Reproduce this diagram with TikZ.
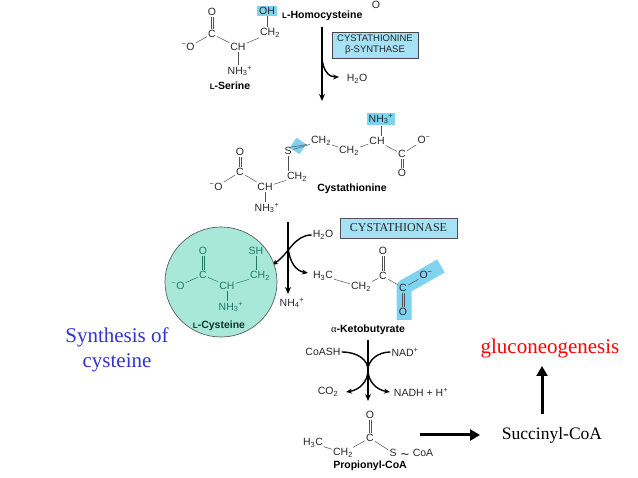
\documentclass[tikz,border=0pt]{standalone}
\usepackage{fontspec}
\setmainfont{Liberation Serif}
\newfontfamily\hv{Liberation Sans}
\usetikzlibrary{arrows.meta,shapes.geometric}
\definecolor{hl}{HTML}{7FD3F0}
\definecolor{boxc}{HTML}{A6E2F5}
\definecolor{mint}{HTML}{A8E8D8}
\definecolor{tealc}{HTML}{1E7A66}
\definecolor{ink}{HTML}{262626}
\definecolor{synblue}{HTML}{3333CC}
\newcommand\mn{\textsuperscript{−}}
\newcommand\sbs[1]{\textsubscript{#1}}
\newcommand\sps[1]{\textsuperscript{#1}}
\newcommand\smallL{{\fontsize{8}{9}\selectfont L}}
% vertical double bond between two named nodes
\newcommand\dbond[3][bond]{%
  \draw[#1] ([xshift=-1.2pt]#2.south) -- ([xshift=-1.2pt]#3.north);
  \draw[#1] ([xshift=1.2pt]#2.south) -- ([xshift=1.2pt]#3.north);}
\begin{document}
\begin{tikzpicture}[x=1pt,y=-1pt,
  atom/.style={font=\hv\fontsize{10.5}{12}\selectfont, text=ink, inner sep=1pt},
  atomc/.style={atom, text=tealc},
  bond/.style={draw=ink!80, line width=0.5pt},
  bondc/.style={draw=tealc, line width=0.5pt},
  lbl/.style={font=\hv\bfseries\fontsize{10.5}{12}\selectfont, text=black, inner sep=0pt},
  rxn/.style={draw=black, line width=1.5pt, -{Stealth[length=7pt,width=6pt]}},
  side/.style={draw=black, line width=1.4pt, -{Stealth[length=6pt,width=5pt]}},
  sidenoarr/.style={draw=black, line width=1.4pt},
  big/.style={draw=black, line width=3pt, -{Triangle[length=10pt,width=11pt]}},
  hlbox/.style={fill=hl, inner xsep=2pt, inner ysep=1.5pt},
]
\useasboundingbox (0,0) rectangle (638,478);

% ---------- L-Serine / L-Homocysteine ----------
\node[atom] (so1) at (212,12) {O};
\node[atom] (sc) at (212,34) {C};
\node[atom] (som) at (188,47) {\mn O};
\node[atom] (sch) at (238,47) {CH};
\node[atom] (sch2) at (270,33) {CH\sbs2};
\node[atom,hlbox] (soh) at (267,11) {OH};
\node[atom] (snh) at (240,71) {NH\sbs3\sps+};
\node[lbl] (lser) at (230,86) {\smallL-Serine};
\node[lbl,anchor=west] (lhom) at (282,16) {\smallL-Homocysteine};
\node[atom] (otop) at (376,5) {O};
\dbond{so1}{sc}
\draw[bond] (som) -- (sc);
\draw[bond] (sc) -- (sch);
\draw[bond] (sch) -- (sch2);
\draw[bond] (soh) -- (soh |- sch2.north);
\draw[bond] (sch) -- (sch |- snh.north);

% ---------- arrow 1 ----------
\coordinate (a1s) at (322,27);
\coordinate (a1e) at (322,101);
\coordinate (a1b) at (322,58);
\coordinate (tiph2oa) at (339,77);
\draw[rxn] (a1s) -- (a1e);
\draw[side] (a1b) .. controls (323,71) and (329,77) .. (tiph2oa);
\node[atom] (h2oa) at (357,79) {H\sbs2O};
\node[draw=ink!85, fill=boxc, line width=0.7pt, align=center,
      font=\hv\fontsize{9.5}{11}\selectfont, text=ink,
      minimum width=86pt, minimum height=26pt, inner sep=1pt] (enz1) at (375,45)
      {CYSTATHIONINE\\β-SYNTHASE};

% ---------- Cystathionine ----------
\node[atom,hlbox] (ynh) at (381,119) {NH\sbs3\sps+};
\node[atom] (ych) at (377,141) {CH};
\node[atom] (ych2b) at (349,151) {CH\sbs2};
\node[atom] (ych2a) at (321,141) {CH\sbs2};
\node[atom] (ys) at (288,151) {S};
\node[fill=hl, minimum width=12pt, minimum height=12pt, inner sep=0pt, rotate=-35] (cut) at (298,146) {};
\node[atom] (yc2) at (402,154) {C};
\node[atom] (yom2) at (424,140) {O\mn};
\node[atom] (yo2) at (402,173) {O};
\node[atom] (yo1) at (240,152) {O};
\node[atom] (yc1) at (240,172) {C};
\node[atom] (yom1) at (216,187) {\mn O};
\node[atom] (ych1) at (265,187) {CH};
\node[atom] (ych2c) at (297,177) {CH\sbs2};
\node[atom] (ynh2) at (267,208) {NH\sbs3\sps+};
\node[lbl] (lcys) at (352,189) {Cystathionine};
\draw[bond] (ynh) -- (ynh |- ych.north);
\draw[bond] (ych) -- (ych2b);
\draw[bond] (ych2b) -- (ych2a);
\draw[bond] (ys) -- (ych2a);
\draw[bond] (cut.north east) -- (cut.south west);
\draw[bond] (ys) -- (ys |- ych2c.north);
\draw[bond] (ych) -- (yc2);
\draw[bond] (yc2) -- (yom2);
\dbond{yc2}{yo2}
\dbond{yo1}{yc1}
\draw[bond] (yom1) -- (yc1);
\draw[bond] (yc1) -- (ych1);
\draw[bond] (ych1) -- (ych2c);
\draw[bond] (ych1) -- (ych1 |- ynh2.north);

% ---------- arrow 2 ----------
\coordinate (a2s) at (288,222);
\coordinate (a2e) at (288,294);
\coordinate (a2m) at (288,246);
\coordinate (tipcys) at (272,265);
\coordinate (tipket) at (308,273);
\draw[rxn] (a2s) -- (a2e);
\node[atom] (h2ob) at (323,235) {H\sbs2O};
\node[draw=ink!80, fill=boxc, line width=0.8pt, font=\fontsize{12}{14}\selectfont, text=ink,
      minimum width=117pt, minimum height=20pt, inner sep=0pt] (enz2) at (398.5,228) {CYSTATHIONASE};
\draw[side] (h2ob.west) .. controls (294,235) and (289,254) .. (tipcys);
\draw[side] (a2m) .. controls (289,262) and (296,271) .. (tipket);
\node[atom] (nh4) at (292,303) {NH\sbs4\sps+};

% ---------- L-Cysteine ----------
\node[ellipse, draw=ink!75, fill=mint, line width=0.7pt,
      minimum width=112pt, minimum height=110pt, inner sep=0pt] (ell) at (221,282) {};
\node[atomc] (co1) at (203,251) {O};
\node[atomc] (cc1) at (203,275) {C};
\node[atomc] (com) at (178,286) {\mn O};
\node[atomc] (cch) at (227,286) {CH};
\node[atomc] (cch2) at (260,276) {CH\sbs2};
\node[atomc] (csh) at (256,251) {SH};
\node[atomc] (cnh) at (231,307) {NH\sbs3\sps+};
\node[lbl, text=tealc!45!black] (lcyst) at (219,326) {\smallL-Cysteine};
\dbond[bondc]{co1}{cc1}
\draw[bondc] (com) -- (cc1);
\draw[bondc] (cc1) -- (cch);
\draw[bondc] (cch) -- (cch2);
\draw[bondc] (csh) -- (csh |- cch2.north);
\draw[bondc] (cch) -- (cch |- cnh.north);

% ---------- alpha-Ketobutyrate ----------
\draw[draw=hl, line width=15pt, line join=round] (441,266) -- (404,287) -- (404,320);
\node[atom] (kh3c) at (323,276) {H\sbs3C};
\node[atom] (kch2) at (361,287) {CH\sbs2};
\node[atom] (kc1) at (383,276) {C};
\node[atom] (ko1) at (383,251) {O};
\node[atom] (kc2) at (403,288) {C};
\node[atom] (kom) at (426,275) {O\mn};
\node[atom] (ko2) at (403,312) {O};
\node[lbl] (lket) at (368,330) {{\normalfont\mdseries α}-Ketobutyrate};
\draw[bond] (kh3c) -- (kch2);
\draw[bond] (kch2) -- (kc1);
\dbond{ko1}{kc1}
\draw[bond] (kc1) -- (kc2);
\draw[bond] (kc2) -- (kom);
\dbond{kc2}{ko2}

% ---------- arrow 3 ----------
\coordinate (a3s) at (368,340);
\coordinate (a3e) at (368,401);
\coordinate (a3m) at (368,370);
\coordinate (tipco2) at (346,392);
\coordinate (tipnadh) at (390,392);
\draw[rxn] (a3s) -- (a3e);
\node[atom] (coash) at (323,352) {CoASH};
\node[atom] (nad) at (405,352) {NAD\sps+};
\node[atom] (co2) at (328,392) {CO\sbs2};
\node[atom] (nadh) at (421,392) {NADH + H\sps+};
\draw[sidenoarr] (coash.east) .. controls (358,352) and (368,360) .. (a3m);
\draw[sidenoarr] (nad.west) .. controls (378,352) and (368,360) .. (a3m);
\draw[side] (a3m) .. controls (368,382) and (359,390) .. (tipco2);
\draw[side] (a3m) .. controls (368,382) and (377,390) .. (tipnadh);

% ---------- Propionyl-CoA ----------
\node[atom] (po) at (370,415) {O};
\node[atom] (pc) at (370,438) {C};
\node[atom] (ph3c) at (313,443) {H\sbs3C};
\node[atom] (pch2) at (343,453) {CH\sbs2};
\node[atom] (ps) at (393,453) {S};
\node[atom, font=\hv\fontsize{15}{15}\selectfont] (ptil) at (405,456.5) {\textasciitilde};
\node[atom] (pcoa) at (423,453) {CoA};
\node[lbl] (lprop) at (370,466) {Propionyl-CoA};
\draw[bond] (ph3c) -- (pch2);
\draw[bond] (pch2) -- (pc);
\dbond{po}{pc}
\draw[bond] (pc) -- (ps);

% ---------- right side ----------
\node[font=\fontsize{17.5}{20}\selectfont, inner sep=0pt] (succ) at (552,435) {Succinyl-CoA};
\node[font=\fontsize{21}{25}\selectfont, text=red, inner sep=0pt] (gluc) at (550,348) {gluconeogenesis};
\coordinate (bigs) at (420,435);
\coordinate (bige) at (480,435);
\coordinate (ups) at (542,414);
\coordinate (upe) at (542,366);
\draw[big] (bigs) -- (bige);
\draw[big] (ups) -- (upe);

% ---------- left caption ----------
\node[font=\fontsize{21}{25}\selectfont, text=synblue, align=center, inner sep=0pt] (syn) at (117,349.5)
  {Synthesis of\\cysteine};
\end{tikzpicture}
\end{document}
